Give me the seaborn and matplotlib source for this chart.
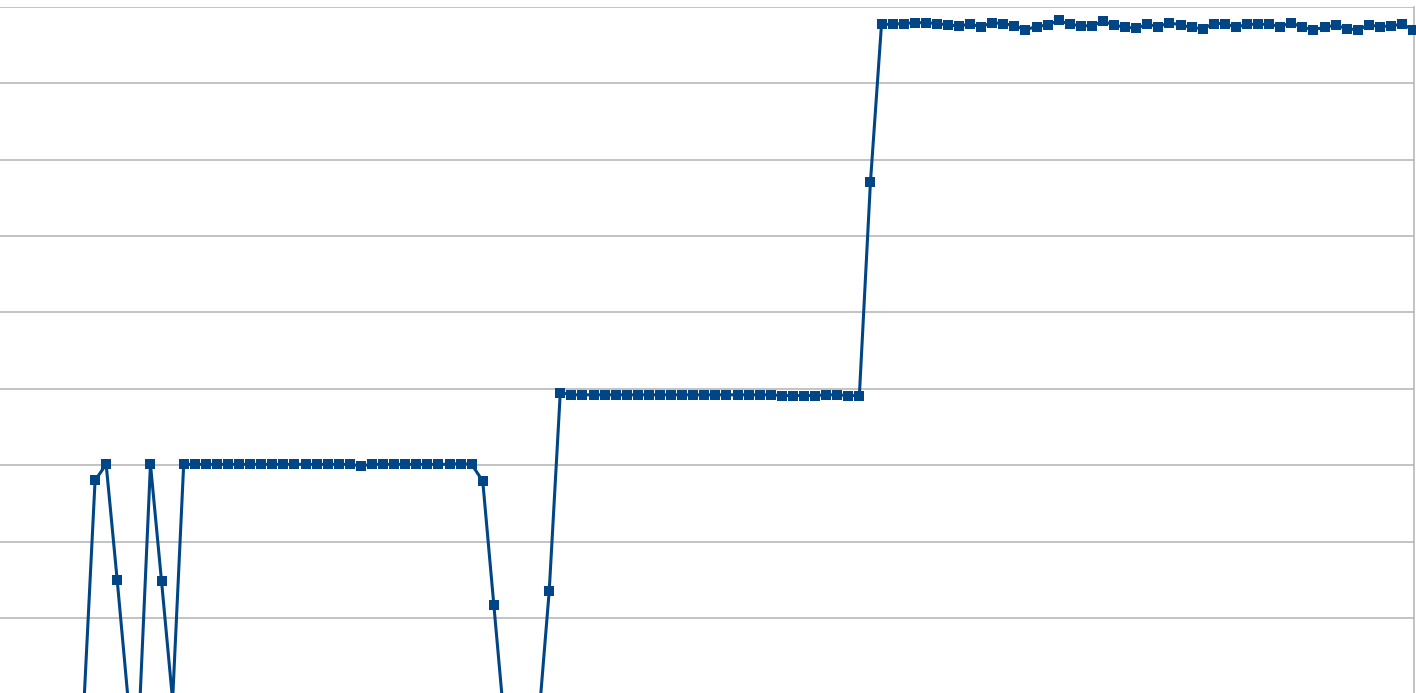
import numpy as np
import pandas as pd
import matplotlib
matplotlib.use("Agg")
import matplotlib.pyplot as plt
import seaborn as sns

# ---- data (unlabeled axes, grid step = 1 unit) ----
start_values = [-0.10, 2.80, 3.01, 1.49, -0.10, -0.25, 3.01, 1.48, -0.08]
plateau1_values = [3.01, 3.01, 3.01, 3.01, 3.01, 3.01, 3.01, 3.01, 3.01,
                   3.01, 3.01, 3.01, 3.01, 3.01, 3.01, 3.01, 2.99, 3.01,
                   3.01, 3.01, 3.01, 3.01, 3.01, 3.01, 3.01, 3.02, 3.01]
dip_values = [2.79, 1.17, -0.45, -0.45, -0.45, -0.42, 1.35, 3.95]
plateau2_values = [3.92, 3.92, 3.92, 3.92, 3.92, 3.92, 3.92, 3.92, 3.92,
                   3.92, 3.92, 3.92, 3.92, 3.92, 3.92, 3.92, 3.92, 3.92,
                   3.92, 3.91, 3.91, 3.91, 3.91, 3.92, 3.92, 3.91, 3.91]
jump_values = [6.70]
plateau3_values = [8.77, 8.77, 8.78, 8.79, 8.79, 8.78, 8.76, 8.75, 8.77,
                   8.74, 8.79, 8.78, 8.75, 8.70, 8.74, 8.76, 8.82, 8.77,
                   8.75, 8.75, 8.81, 8.76, 8.73, 8.72, 8.77, 8.74,
                   8.79, 8.76, 8.73, 8.71, 8.78, 8.78, 8.73, 8.77, 8.77,
                   8.77, 8.74, 8.79, 8.73, 8.70, 8.73, 8.76, 8.71, 8.70,
                   8.76, 8.74, 8.75, 8.77, 8.70]
y_ticks = list(range(0, 10))

values = (start_values + plateau1_values + dip_values + plateau2_values
          + jump_values + plateau3_values)
df = pd.DataFrame({"x": np.arange(len(values)), "y": values})

# ---- styling ----
LINE_COLOR = "#004586"
GRID_COLOR = "#b3b3b3"

sns.set_theme(style="whitegrid")
plt.rcParams["font.family"] = ["DejaVu Sans"]

W, H = 1416, 693
fig = plt.figure(figsize=(W / 100, H / 100), dpi=100)
ax_left_px, ax_right_px = 0.0, 1413.5
ax_top_px, ax_bottom_px = 6.7, 694.3
ax = fig.add_axes([ax_left_px / W, (H - ax_bottom_px) / H,
                   (ax_right_px - ax_left_px) / W,
                   (ax_bottom_px - ax_top_px) / H])

sns.lineplot(data=df, x="x", y="y", ax=ax, color=LINE_COLOR, linewidth=2.2,
             marker="s", markersize=7.2, markeredgecolor=LINE_COLOR,
             markeredgewidth=0.0, clip_on=False, zorder=3)

ax.set_xlim(-7.584, 120.03)
ax.set_ylim(y_ticks[0], y_ticks[-1])
ax.set_yticks(y_ticks)
ax.set_xticks([])
ax.set_yticklabels([])
ax.set_xlabel("")
ax.set_ylabel("")
ax.grid(axis="x", visible=False)
ax.grid(axis="y", color=GRID_COLOR, linewidth=1.1)
ax.tick_params(left=False, bottom=False)
for side in ["top", "left", "bottom"]:
    ax.spines[side].set_visible(False)
ax.spines["right"].set_visible(True)
ax.spines["right"].set_color(GRID_COLOR)
ax.spines["right"].set_linewidth(1.1)
ax.set_facecolor("white")
fig.patch.set_facecolor("white")

fig.savefig("out.png", dpi=100, facecolor="white")
